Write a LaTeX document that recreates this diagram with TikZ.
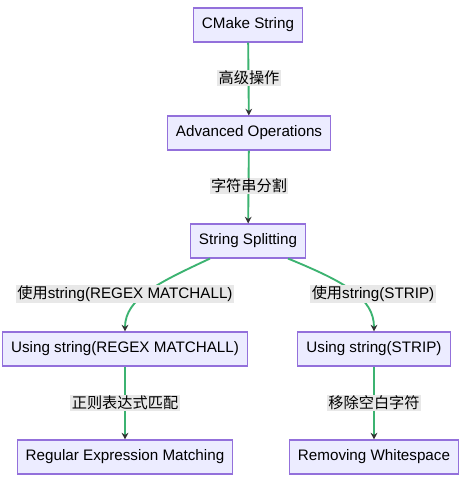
\documentclass[tikz,border=0pt]{standalone}
\usepackage{fontspec}
\setmainfont{Liberation Sans}
\newfontfamily\cjk{Noto Sans CJK SC}
\usetikzlibrary{arrows.meta}
\definecolor{boxfill}{HTML}{ECECFF}
\definecolor{boxline}{HTML}{9370DB}
\definecolor{edgeline}{HTML}{3CB371}
\definecolor{lblfill}{HTML}{E8E8E8}
\tikzset{
  box/.style={draw=boxline, fill=boxfill, line width=0.8pt, minimum height=25.5pt,
    inner xsep=6.5pt, font=\fontsize{11.4}{13}\selectfont},
  link/.style={draw=edgeline, line width=1.4pt, -{Stealth[length=5pt,width=5pt,color=black!80]}},
  lbl/.style={fill=lblfill, inner sep=1pt, font=\fontsize{11.4}{13}\selectfont}
}
\begin{document}
\begin{tikzpicture}[x=0.75pt, y=-0.75pt]
    \useasboundingbox[fill=white] (0,0) rectangle (468,482);
    % boxes
    \node[box] (cs) at (248,25) {CMake String};
    \node[box] (ao) at (249,133) {Advanced Operations};
    \node[box] (ss) at (248,241) {String Splitting};
    \node[box] (lm) at (125,349) {Using string(REGEX MATCHALL)};
    \node[box] (rs) at (374,349) {Using string(STRIP)};
    \node[box] (re) at (125,457) {Regular Expression Matching};
    \node[box] (rw) at (374,457) {Removing Whitespace};
    % links
    \draw[link] (cs) -- (ao);
    \draw[link] (ao) -- (ss);
    \draw[link] ([xshift=-28.5pt]ss.south) .. controls (160,282) and (125,298) .. (lm.north);
    \draw[link] ([xshift=30pt]ss.south) .. controls (345,282) and (374,298) .. (rs.north);
    \draw[link] (lm) -- (re);
    \draw[link] (rs) -- (rw);
    % labels
    \node[lbl] (l1) at (249,78) {\cjk 高级操作};
    \node[lbl] (l2) at (249,186) {\cjk 字符串分割};
    \node[lbl] (l3) at (125,294) {{\cjk 使用}string(REGEX MATCHALL)};
    \node[lbl] (l4) at (373,294) {{\cjk 使用}string(STRIP)};
    \node[lbl] (l5) at (125,403) {\cjk 正则表达式匹配};
    \node[lbl] (l6) at (374,403) {\cjk 移除空白字符};
\end{tikzpicture}
\end{document}
